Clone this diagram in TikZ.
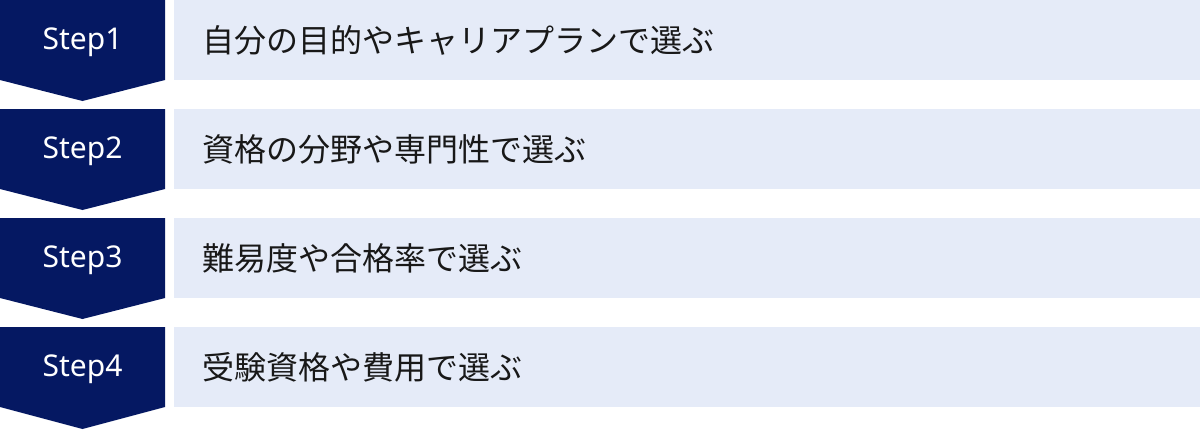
\documentclass[tikz,border=0pt]{standalone}
\usepackage{fontspec}
\setmainfont{Noto Sans CJK JP}
\newfontfamily\stepfont{Noto Sans}
\definecolor{navy}{RGB}{5,24,98}
\definecolor{paleblue}{RGB}{229,235,248}
\definecolor{ink}{RGB}{24,24,24}
\tikzset{
  stepshape/.style={fill=navy, draw=none},
  steplabel/.style={text=white, font=\stepfont\fontsize{15pt}{18pt}\selectfont, inner sep=0pt},
  textbox/.style={fill=paleblue, draw=none, anchor=north west, minimum width=513pt, minimum height=40pt,
    text width=485pt, align=left, inner xsep=14pt, inner ysep=0pt, text=ink,
    font=\fontsize{16pt}{20pt}\selectfont}
}
\begin{document}
\begin{tikzpicture}[x=0.5pt,y=-0.5pt]
\useasboundingbox (0,0) rectangle (1200,429);

% step arrows
\fill[stepshape] (0,0) -- (165,0) -- (165,80) -- (82.5,101) -- (0,80) -- cycle;
\fill[stepshape] (0,109) -- (165,109) -- (165,189) -- (82.5,210) -- (0,189) -- cycle;
\fill[stepshape] (0,218) -- (165,218) -- (165,298) -- (82.5,319) -- (0,298) -- cycle;
\fill[stepshape] (0,327) -- (165,327) -- (165,407) -- (82.5,429) -- (0,407) -- cycle;

\node [steplabel] (s1) at (82.5,42) {Step1};
\node [steplabel] (s2) at (82.5,151) {Step2};
\node [steplabel] (s3) at (82.5,260) {Step3};
\node [steplabel] (s4) at (82.5,369) {Step4};

% text boxes
\node [textbox] (t1) at (174,0) {自分の目的やキャリアプランで選ぶ};
\node [textbox] (t2) at (174,109) {資格の分野や専門性で選ぶ};
\node [textbox] (t3) at (174,218) {難易度や合格率で選ぶ};
\node [textbox] (t4) at (174,327) {受験資格や費用で選ぶ};
\end{tikzpicture}
\end{document}
